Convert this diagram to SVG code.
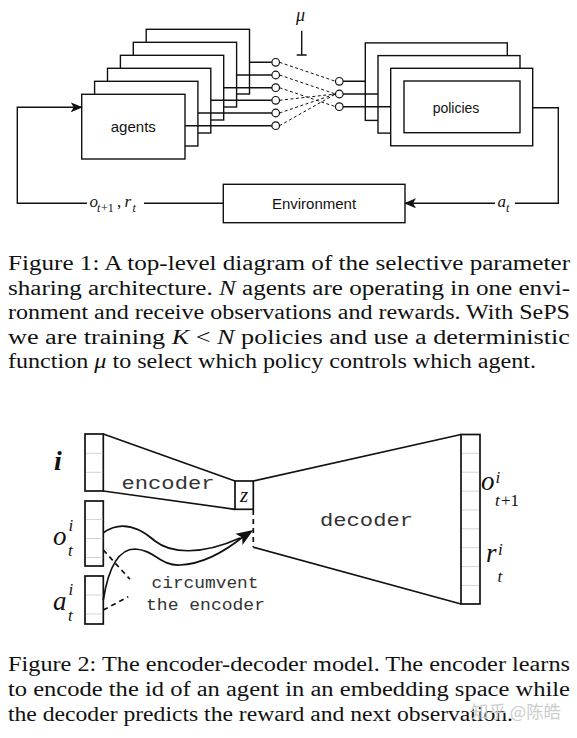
<svg xmlns="http://www.w3.org/2000/svg" width="577" height="738" viewBox="0 0 577 738">
<style>
  .box { fill: #fff; stroke: #111; stroke-width: 1.4; }
  .ln { fill: none; stroke: #111; stroke-width: 1.4; }
  .dash { fill: none; stroke: #111; stroke-width: 1; stroke-dasharray: 3 2.5; }
  .circ { fill: #fff; stroke: #111; stroke-width: 1.2; }
  .sans { font-family: "Liberation Sans", Arial, sans-serif; fill: #111; }
  .math { font-family: "Liberation Serif", "Times New Roman", serif; font-style: italic; fill: #111; }
  .cap { font-family: "Liberation Serif", "Times New Roman", serif; font-size: 20.5px; fill: #111; }
  .mono { font-family: "Liberation Mono", "Courier New", monospace; fill: #333; }
  .vec { fill: #fff; stroke: #111; stroke-width: 1.7; }
  .cell { stroke: #d4d4d4; stroke-width: 1; }
  .bl { fill: none; stroke: #111; stroke-width: 1.7; }
  .bdash { fill: none; stroke: #111; stroke-width: 1.7; stroke-dasharray: 5 4; }
</style>
<defs>
  <marker id="arr" viewBox="0 0 12 10" refX="11" refY="5" markerWidth="12" markerHeight="10" markerUnits="userSpaceOnUse" orient="auto">
    <path d="M0,0 L12,5 L0,10 L3,5 z" fill="#111"/>
  </marker>
</defs>

<!-- Figure 1 -->
<g id="agents">
  <rect class="box" x="146.2" y="29.3" width="103.3" height="64.7"/>
  <rect class="box" x="133.3" y="42.3" width="103.3" height="64.7"/>
  <rect class="box" x="120.4" y="55.3" width="103.3" height="64.7"/>
  <rect class="box" x="107.5" y="68.3" width="103.3" height="64.7"/>
  <rect class="box" x="94.6" y="81.3" width="103.3" height="64.7"/>
  <rect class="box" x="81.7" y="94.3" width="103.3" height="64.7"/>
  <text class="sans" x="133.3" y="132" font-size="15" text-anchor="middle">agents</text>
</g>
<g id="policies">
  <rect class="box" x="365.3" y="42.9" width="142" height="77.5"/>
  <rect class="box" x="378" y="55.6" width="142" height="77.5"/>
  <rect class="box" x="390.7" y="68.3" width="142" height="77.5"/>
  <rect class="box" x="404" y="81" width="116" height="51.7"/>
  <text class="sans" x="456" y="112.5" font-size="14" text-anchor="middle">policies</text>
</g>
<g id="environment">
  <rect class="box" x="223.3" y="184.3" width="181.7" height="38.4"/>
  <text class="sans" x="314" y="209" font-size="15" text-anchor="middle">Environment</text>
</g>
<g id="mu">
  <text class="math" x="296" y="21" font-size="18">μ</text>
  <path class="ln" d="M301.7,30.7 V55 M296.7,55 H306.7"/>
</g>
<g id="connectors">
  <path class="ln" d="M249.5,62.3 H271.9 M236.6,75 H271.9 M223.7,87.7 H271.9 M210.8,100.3 H271.9 M197.9,113 H271.9 M185,125.7 H271.9"/>
  <path class="ln" d="M343.1,81.3 H365.3 M343.1,94 H378 M343.1,106.7 H390.7"/>
  <path class="dash" d="M279.5,62.3 L335.5,81.3 M279.5,75 L335.5,94 M279.5,87.7 L335.5,106.7 M279.5,100.3 L335.5,94 M279.5,113 L335.5,94 M279.5,125.7 L335.5,94"/>
  <circle class="circ" cx="275.7" cy="62.3" r="3.8"/>
  <circle class="circ" cx="275.7" cy="75" r="3.8"/>
  <circle class="circ" cx="275.7" cy="87.7" r="3.8"/>
  <circle class="circ" cx="275.7" cy="100.3" r="3.8"/>
  <circle class="circ" cx="275.7" cy="113" r="3.8"/>
  <circle class="circ" cx="275.7" cy="125.7" r="3.8"/>
  <circle class="circ" cx="339.3" cy="81.3" r="3.8"/>
  <circle class="circ" cx="339.3" cy="94" r="3.8"/>
  <circle class="circ" cx="339.3" cy="106.7" r="3.8"/>
  <path class="ln" d="M223.3,203.3 H17.3 V107.3 H81.7" marker-end="url(#arr)"/>
  <path class="ln" d="M532.7,107.7 H558.3 V203.3 H405" marker-end="url(#arr)"/>
  <rect x="87" y="195" width="57" height="19" fill="#fff"/>
  <text class="math" font-size="17"><tspan x="89.5" y="207">o</tspan><tspan x="97" y="212" font-size="12">t</tspan><tspan x="101" y="212" font-size="12" font-style="normal">+1</tspan><tspan x="117" y="207" font-style="normal">,</tspan><tspan x="124.5" y="207">r</tspan><tspan x="132.5" y="212" font-size="12">t</tspan></text>
  <rect x="495" y="195" width="20" height="19" fill="#fff"/>
  <text class="math" font-size="17"><tspan x="497.5" y="207">a</tspan><tspan x="506" y="212" font-size="12">t</tspan></text>
</g>

<!-- Figure 1 caption -->
<g id="caption1" class="cap" font-family="Liberation Serif, Times New Roman, serif">
  <text x="8" y="270" textLength="562" lengthAdjust="spacingAndGlyphs">Figure 1:  A top-level diagram of the selective parameter</text>
  <text x="8" y="294.5" textLength="562" lengthAdjust="spacingAndGlyphs">sharing architecture.  <tspan font-style="italic">N</tspan> agents are operating in one envi-</text>
  <text x="8" y="319" textLength="562" lengthAdjust="spacingAndGlyphs">ronment and receive observations and rewards. With SePS</text>
  <text x="8" y="343.5" textLength="562" lengthAdjust="spacingAndGlyphs">we are training <tspan font-style="italic">K</tspan> &lt; <tspan font-style="italic">N</tspan> policies and use a deterministic</text>
  <text x="8" y="368" textLength="528" lengthAdjust="spacingAndGlyphs">function <tspan font-style="italic">μ</tspan> to select which policy controls which agent.</text>
</g>

<!-- Figure 2 -->
<g id="vec-i">
  <rect class="vec" x="85" y="434" width="18.3" height="57"/>
  <path class="cell" d="M86,453.3 H102.5 M86,472.3 H102.5"/>
  <text class="math" x="54" y="470" font-size="28" font-weight="bold">i</text>
</g>
<g id="vec-o">
  <rect class="vec" x="85" y="501" width="18.3" height="65"/>
  <path class="cell" d="M86,519.5 H102.5 M86,538.5 H102.5 M86,557.5 H102.5"/>
  <text class="math" font-size="27"><tspan x="53" y="545">o</tspan><tspan x="68.5" y="531" font-size="17">i</tspan><tspan x="68" y="556" font-size="17">t</tspan></text>
</g>
<g id="vec-a">
  <rect class="vec" x="85" y="576" width="18.3" height="48"/>
  <path class="cell" d="M86,595 H102.5 M86,614 H102.5"/>
  <text class="math" font-size="27"><tspan x="53" y="610">a</tspan><tspan x="68.5" y="595" font-size="17">i</tspan><tspan x="68" y="621" font-size="17">t</tspan></text>
</g>
<g id="encoder">
  <path class="bl" d="M103.3,434 L235,481 M103.3,491 L235,509.3"/>
  <text class="mono" x="121.5" y="489" font-size="19" textLength="93" lengthAdjust="spacingAndGlyphs">encoder</text>
</g>
<g id="z">
  <rect class="vec" x="235" y="481" width="18.3" height="28.3"/>
  <text class="math" x="244" y="501.5" font-size="21" text-anchor="middle">z</text>
</g>
<g id="decoder">
  <path class="bl" d="M253.3,481 L461,434.5 M253.3,547.3 L461,604"/>
  <text class="mono" x="320" y="526" font-size="19" textLength="93" lengthAdjust="spacingAndGlyphs">decoder</text>
</g>
<g id="vec-out">
  <rect class="vec" x="461" y="434.5" width="19" height="169.5"/>
  <path class="cell" d="M462,453.3 H479 M462,472.2 H479 M462,491.1 H479 M462,510 H479 M462,528.8 H479 M462,547.7 H479 M462,566.6 H479 M462,585.4 H479"/>
  <text class="math" font-size="27"><tspan x="481" y="490">o</tspan><tspan x="495.5" y="483" font-size="17">i</tspan><tspan x="495" y="506" font-size="17">t</tspan><tspan x="501" y="506" font-size="17" font-style="normal">+1</tspan></text>
  <text class="math" font-size="27"><tspan x="486" y="562">r</tspan><tspan x="498" y="555" font-size="17">i</tspan><tspan x="497.5" y="582" font-size="17">t</tspan></text>
</g>
<g id="bypass">
  <path class="bdash" d="M253.3,510 V547.3"/>
  <path class="bl" d="M103.3,532.7 C120,521 138,526 155,541 C170,553 200,556 240,538"/>
  <path class="bl" d="M103.3,600 C108,570 118,549 135,549 C155,550 160,566 180,565 C205,564 228,549 244,536"/>
  <path d="M253.3,530 L235.5,533.8 L242.2,537.5 L242.5,545 Z" fill="#111"/>
  <path class="bdash" d="M103.3,550 L130,579.3 M103.3,610 L128.3,596.7"/>
  <text class="mono" x="151.5" y="588" font-size="17" textLength="107" lengthAdjust="spacingAndGlyphs">circumvent</text>
  <text class="mono" x="146" y="610" font-size="17" textLength="119" lengthAdjust="spacingAndGlyphs">the encoder</text>
</g>

<!-- Figure 2 caption -->
<g id="caption2" class="cap" font-family="Liberation Serif, Times New Roman, serif">
  <text x="8" y="671" textLength="562" lengthAdjust="spacingAndGlyphs">Figure 2: The encoder-decoder model. The encoder learns</text>
  <text x="8" y="696" textLength="562" lengthAdjust="spacingAndGlyphs">to encode the id of an agent in an embedding space while</text>
  <text x="8" y="721" textLength="505" lengthAdjust="spacingAndGlyphs">the decoder predicts the reward and next observation.</text>
</g>
<text x="471" y="718" font-family="'Noto Sans CJK SC', sans-serif" font-size="17" fill="#cccccc" textLength="90" lengthAdjust="spacingAndGlyphs">知乎 @陈皓</text>
</svg>
